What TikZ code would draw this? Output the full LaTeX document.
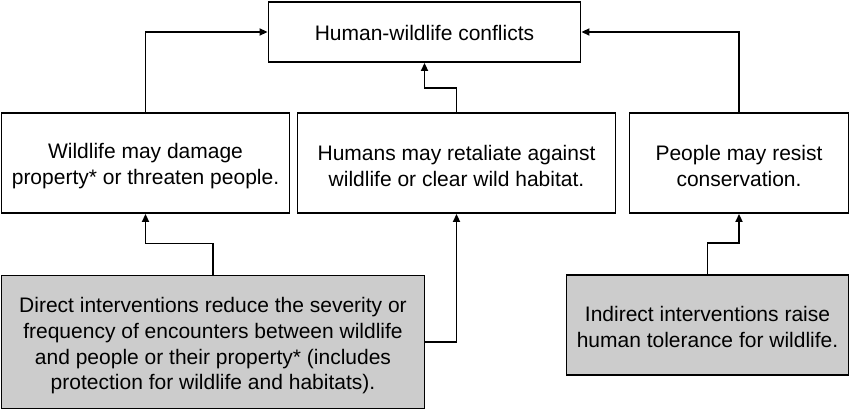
\documentclass[tikz,border=0pt]{standalone}
\usepackage{fontspec}
\setmainfont{Liberation Sans}
\usetikzlibrary{arrows.meta}
\begin{document}
\begin{tikzpicture}[x=1pt,y=-1pt,
  box/.style={draw=black,line width=1.9pt,rectangle,inner sep=0pt,anchor=center},
  graybox/.style={box,fill=gray!40},
  txt/.style={align=center,inner sep=0pt,anchor=center,font=\fontsize{21}{25.7}\selectfont},
  conn/.style={line width=1.9pt,-{Triangle[length=8pt,width=7pt]}}]
\useasboundingbox (0,0) rectangle (850,411);
\node[box,minimum width=312pt,minimum height=60pt] (top) at (424.5,32) {};
\node[box,minimum width=288pt,minimum height=100pt] (left) at (145.5,163) {};
\node[box,minimum width=318pt,minimum height=100pt] (mid) at (456.5,163) {};
\node[box,minimum width=219pt,minimum height=100pt] (right) at (739,163) {};
\node[graybox,minimum width=423pt,minimum height=133pt] (bl) at (213,342) {};
\node[graybox,minimum width=282pt,minimum height=100pt] (br) at (707.5,325) {};
\node[txt] (topt) at ([yshift=-1pt]top.center) {Human-wildlife conflicts};
\node[txt] (leftt) at ([yshift=-3pt]left.center) {Wildlife may damage\\property* or threaten people.};
\node[txt] (midt) at ([yshift=-3pt]mid.center) {Humans may retaliate against\\wildlife or clear wild habitat.};
\node[txt] (rightt) at ([yshift=-3pt]right.center) {People may resist\\conservation.};
\node[txt] (blt) at ([yshift=-4pt]bl.center) {Direct interventions reduce the severity or\\frequency of encounters between wildlife\\and people or their property* (includes\\protection for wildlife and habitats).};
\node[txt] (brt) at ([yshift=-2pt]br.center) {Indirect interventions raise\\human tolerance for wildlife.};
\draw[conn] (left.north) |- (top.west);
\draw[conn] (mid.north) -- ++(0,-24) -| (top.south);
\draw[conn] (right.north) |- (top.east);
\draw[conn] (bl.north) -- ++(0,-31) -| (left.south);
\draw[conn] (bl.east) -| (mid.south);
\draw[conn] (br.north) -- ++(0,-31) -| (right.south);
\end{tikzpicture}
\end{document}
